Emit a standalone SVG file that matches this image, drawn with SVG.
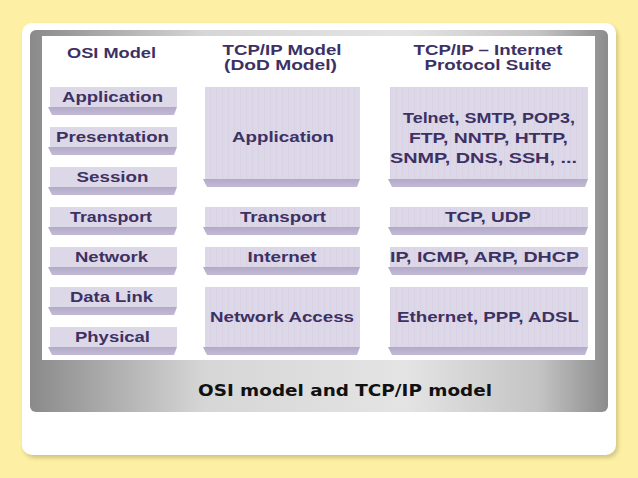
<svg xmlns="http://www.w3.org/2000/svg" width="638" height="478" viewBox="0 0 638 478">
<defs>
<linearGradient id="frameG" x1="0" y1="0" x2="1" y2="0">
<stop offset="0" stop-color="#8a8a8a"/>
<stop offset="0.3" stop-color="#d6d6d6"/>
<stop offset="0.65" stop-color="#e4e4e4"/>
<stop offset="0.88" stop-color="#c4c4c4"/>
<stop offset="1" stop-color="#8c8c8c"/>
</linearGradient>
<linearGradient id="bevelG" x1="0" y1="0" x2="0" y2="1">
<stop offset="0" stop-color="#b3aac8"/>
<stop offset="1" stop-color="#c2bad4"/>
</linearGradient>
<pattern id="stripes" x="0" y="0" width="6" height="10" patternUnits="userSpaceOnUse">
<rect width="6" height="10" fill="#ddd8e8"/>
<rect x="0" width="1" height="10" fill="#d8d2e4"/>
</pattern>
<filter id="sh" x="-5%" y="-5%" width="110%" height="110%">
<feGaussianBlur stdDeviation="2"/>
</filter>
</defs>
<style>
.face{fill:#ddd8e8}
.tall{fill:url(#stripes)}
.bevel{fill:url(#bevelG)}
.lbl{font-family:"Liberation Sans",Arial,sans-serif;font-weight:bold;font-size:14px;fill:#3d3163;text-anchor:middle}
.cap{font-family:"DejaVu Sans",Verdana,sans-serif;font-weight:bold;font-size:16.5px;fill:#111;text-anchor:middle}
</style>
<rect width="638" height="478" fill="#fdf0a4"/>
<rect x="24" y="26" width="594" height="432" rx="10" fill="#000" opacity="0.18" filter="url(#sh)"/>
<rect x="22" y="23" width="594" height="432" rx="10" fill="#ffffff"/>
<rect x="30" y="30" width="578" height="382" rx="6" fill="url(#frameG)"/>
<rect x="42" y="36" width="553" height="324" fill="#ffffff"/>

<g id="headers">
<text class="lbl" x="111.5" y="58" textLength="89" lengthAdjust="spacingAndGlyphs">OSI Model</text>
<text class="lbl" x="282" y="54.5" textLength="119" lengthAdjust="spacingAndGlyphs">TCP/IP Model</text>
<text class="lbl" x="280.5" y="70" textLength="113" lengthAdjust="spacingAndGlyphs">(DoD Model)</text>
<text class="lbl" x="488" y="54.5" textLength="149" lengthAdjust="spacingAndGlyphs">TCP/IP – Internet</text>
<text class="lbl" x="488" y="70" textLength="127" lengthAdjust="spacingAndGlyphs">Protocol Suite</text>
</g>

<g id="osi-application">
<rect class="face" x="50" y="87" width="127" height="20"/>
<polygon class="bevel" points="48,107 177,107 174,115 52,115"/>
<text class="lbl" x="112.5" y="102" textLength="101" lengthAdjust="spacingAndGlyphs">Application</text>
</g>
<g id="osi-presentation">
<rect class="face" x="50" y="127" width="127" height="20"/>
<polygon class="bevel" points="48,147 177,147 174,155 52,155"/>
<text class="lbl" x="112.5" y="142" textLength="113" lengthAdjust="spacingAndGlyphs">Presentation</text>
</g>
<g id="osi-session">
<rect class="face" x="50" y="167" width="127" height="20"/>
<polygon class="bevel" points="48,187 177,187 174,195 52,195"/>
<text class="lbl" x="112.5" y="182" textLength="72" lengthAdjust="spacingAndGlyphs">Session</text>
</g>
<g id="osi-transport">
<rect class="face" x="50" y="207" width="127" height="20"/>
<polygon class="bevel" points="48,227 177,227 174,235 52,235"/>
<text class="lbl" x="111" y="222" textLength="82" lengthAdjust="spacingAndGlyphs">Transport</text>
</g>
<g id="osi-network">
<rect class="face" x="50" y="247" width="127" height="20"/>
<polygon class="bevel" points="48,267 177,267 174,275 52,275"/>
<text class="lbl" x="111.5" y="262" textLength="73" lengthAdjust="spacingAndGlyphs">Network</text>
</g>
<g id="osi-datalink">
<rect class="face" x="50" y="287" width="127" height="20"/>
<polygon class="bevel" points="48,307 177,307 174,315 52,315"/>
<text class="lbl" x="111.5" y="302" textLength="83" lengthAdjust="spacingAndGlyphs">Data Link</text>
</g>
<g id="osi-physical">
<rect class="face" x="50" y="327" width="127" height="20"/>
<polygon class="bevel" points="48,347 177,347 174,355 52,355"/>
<text class="lbl" x="112.5" y="342" textLength="75" lengthAdjust="spacingAndGlyphs">Physical</text>
</g>

<g id="tcp-application">
<rect class="tall" x="205" y="87" width="155" height="92"/>
<polygon class="bevel" points="203,179 360,179 357,187 207,187"/>
<text class="lbl" x="283" y="142" textLength="102" lengthAdjust="spacingAndGlyphs">Application</text>
</g>
<g id="tcp-transport">
<rect class="tall" x="205" y="207" width="155" height="20"/>
<polygon class="bevel" points="203,227 360,227 357,235 207,235"/>
<text class="lbl" x="283" y="222" textLength="86" lengthAdjust="spacingAndGlyphs">Transport</text>
</g>
<g id="tcp-internet">
<rect class="tall" x="205" y="247" width="155" height="20"/>
<polygon class="bevel" points="203,267 360,267 357,275 207,275"/>
<text class="lbl" x="282" y="262" textLength="69" lengthAdjust="spacingAndGlyphs">Internet</text>
</g>
<g id="tcp-network-access">
<rect class="tall" x="205" y="287" width="155" height="60"/>
<polygon class="bevel" points="203,347 360,347 357,355 207,355"/>
<text class="lbl" x="282" y="322" textLength="144" lengthAdjust="spacingAndGlyphs">Network Access</text>
</g>

<g id="suite-application">
<rect class="tall" x="390" y="87" width="198" height="92"/>
<polygon class="bevel" points="388,179 588,179 585,187 392,187"/>
<text class="lbl" x="489" y="123" textLength="172" lengthAdjust="spacingAndGlyphs">Telnet, SMTP, POP3,</text>
<text class="lbl" x="488.5" y="143" textLength="159" lengthAdjust="spacingAndGlyphs">FTP, NNTP, HTTP,</text>
<text class="lbl" x="483.5" y="163" textLength="187" lengthAdjust="spacingAndGlyphs">SNMP, DNS, SSH, ...</text>
</g>
<g id="suite-transport">
<rect class="tall" x="390" y="207" width="198" height="20"/>
<polygon class="bevel" points="388,227 588,227 585,235 392,235"/>
<text class="lbl" x="488" y="222" textLength="86" lengthAdjust="spacingAndGlyphs">TCP, UDP</text>
</g>
<g id="suite-internet">
<rect class="tall" x="390" y="247" width="198" height="20"/>
<polygon class="bevel" points="388,267 588,267 585,275 392,275"/>
<text class="lbl" x="484.5" y="262" textLength="189" lengthAdjust="spacingAndGlyphs">IP, ICMP, ARP, DHCP</text>
</g>
<g id="suite-link">
<rect class="tall" x="390" y="287" width="198" height="60"/>
<polygon class="bevel" points="388,347 588,347 585,355 392,355"/>
<text class="lbl" x="488" y="322" textLength="182" lengthAdjust="spacingAndGlyphs">Ethernet, PPP, ADSL</text>
</g>

<g id="connectors"/>

<g id="caption">
<text class="cap" x="345" y="396" textLength="294" lengthAdjust="spacingAndGlyphs">OSI model and TCP/IP model</text>
</g>
</svg>
